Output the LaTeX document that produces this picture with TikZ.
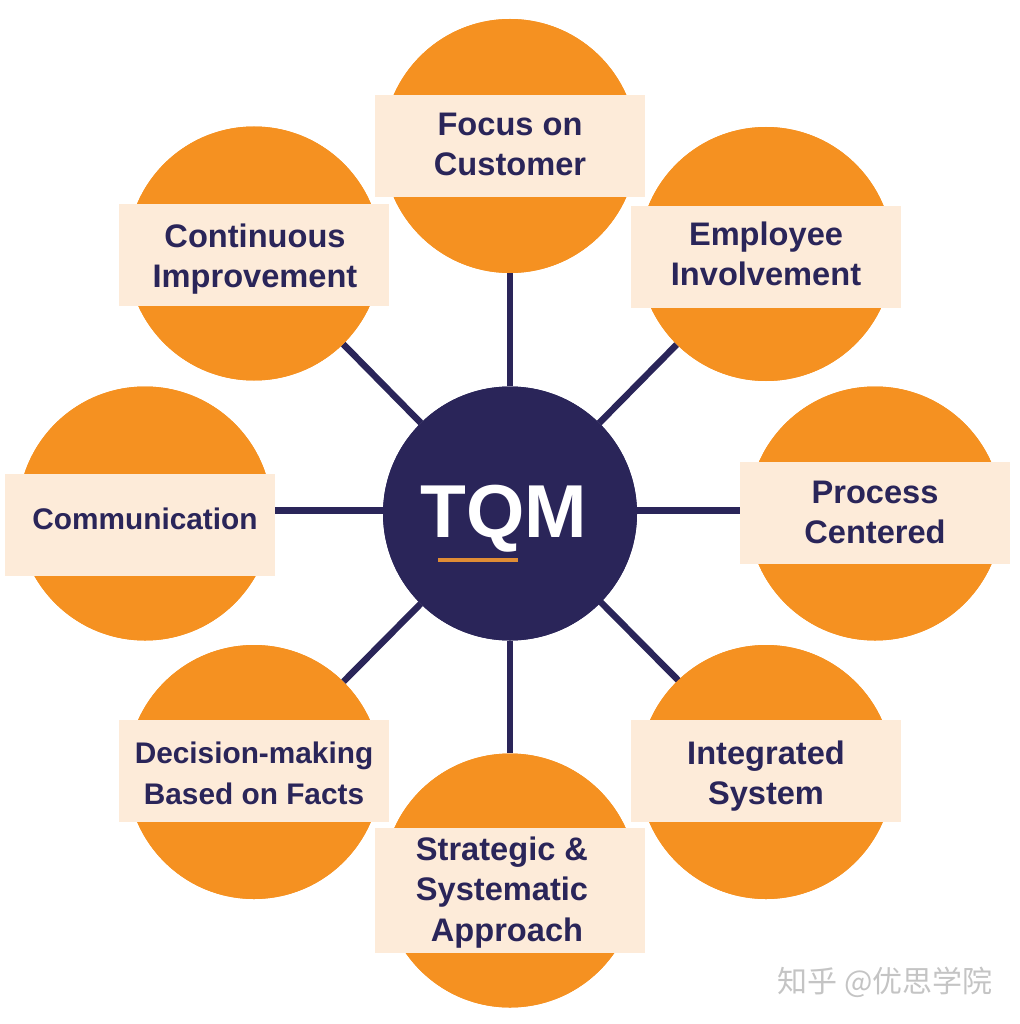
\documentclass[tikz,border=0pt]{standalone}
\usepackage{fontspec}
\setmainfont{Liberation Sans}
\newfontfamily\cjkwm{Noto Sans CJK SC}
\definecolor{navy}{HTML}{2A2559}
\definecolor{tqmorange}{HTML}{F59121}
\definecolor{barcream}{HTML}{FDEBD9}
\definecolor{rulecol}{HTML}{E08D35}
\definecolor{wmgray}{HTML}{C4C4C4}
\tikzset{
  petal/.style={circle,fill=tqmorange,draw=none,minimum size=254pt,inner sep=0pt},
  hub/.style={circle,fill=navy,draw=none,minimum size=254pt,inner sep=0pt},
  barbox/.style={rectangle,fill=barcream,draw=none,minimum width=270pt,minimum height=102pt,inner sep=0pt},
  lab/.style={text=navy,font=\fontsize{32.6}{40.5}\selectfont\bfseries,align=center,inner sep=0pt},
  labtight/.style={text=navy,font=\fontsize{29.8}{40.5}\selectfont\bfseries,align=center,inner sep=0pt},
  spoke/.style={draw=navy,line width=6.5pt},
}
\begin{document}
\begin{tikzpicture}[x=1pt,y=-1pt]
\useasboundingbox (0,0) rectangle (1019,1024);
\node[hub] (hubc) at (510,513.5) {};
\node[petal] (focus) at (510,146) {};
\node[petal] (employee) at (766,254) {};
\node[petal] (process) at (875,513.5) {};
\node[petal] (integrated) at (766,772) {};
\node[petal] (strategic) at (510,880.5) {};
\node[petal] (decision) at (254,772) {};
\node[petal] (commun) at (145,513.5) {};
\node[petal] (continuous) at (254,253.5) {};
\draw[spoke] (hubc) -- (focus);
\draw[spoke] (hubc) -- (strategic);
\draw[spoke] (hubc) -- (employee);
\draw[spoke] (hubc) -- (continuous);
\draw[spoke] (hubc) -- (decision);
\draw[spoke] ([xshift=3pt]hubc.center) -- ([xshift=3pt]integrated.center);
\draw[spoke] ([yshift=3pt]hubc.center) -- ([yshift=3pt]process.center);
\draw[spoke] ([yshift=3pt]hubc.center) -- ([yshift=3pt]commun.center);
\node[hub] at (hubc) {};
\foreach \t in {focus,employee,process,integrated,strategic,decision,commun,continuous}
  \node[petal] at (\t) {};
\node[barbox] (b1) at (510,146) {};
\node[barbox] (b2) at (766,257) {};
\node[barbox] (b3) at (875,513) {};
\node[barbox] (b4) at (766,771) {};
\node[barbox,minimum height=125pt] (b5) at (510,890.5) {};
\node[barbox] (b6) at (254,771) {};
\node[barbox] (b7) at (140,525) {};
\node[barbox] (b8) at (254,255) {};
\node[lab] (t1) at (510,144.5) {Focus on\\Customer};
\node[lab] (t2) at (766,254) {Employee\\Involvement};
\node[lab] (t3) at (875,512.5) {Process\\Centered};
\node[lab] (t4) at (766,776) {Integrated\\System};
\node[lab] (t5) at (502,892.5) {Strategic \&\\Systematic\\\hspace*{10pt}Approach};
\node[labtight] (t6) at (254,773.5) {Decision-making\\Based on Facts};
\node[labtight] (t7) at (145,519) {Communication};
\node[lab] (t8) at (255,259) {Continuous\\Improvement};
\node[text=white,font=\fontsize{75}{75}\selectfont\bfseries,inner sep=0pt,anchor=base] (tqm) at (504,537) {TQM};
\coordinate (ra) at (438,560);
\coordinate (rb) at (518,560);
\draw[draw=rulecol,line width=4pt] (ra) -- (rb);
\node[text=wmgray,font=\cjkwm\fontsize{30}{30}\selectfont,inner sep=0pt] (wm) at (885,982) {知乎 @优思学院};
\end{tikzpicture}
\end{document}
